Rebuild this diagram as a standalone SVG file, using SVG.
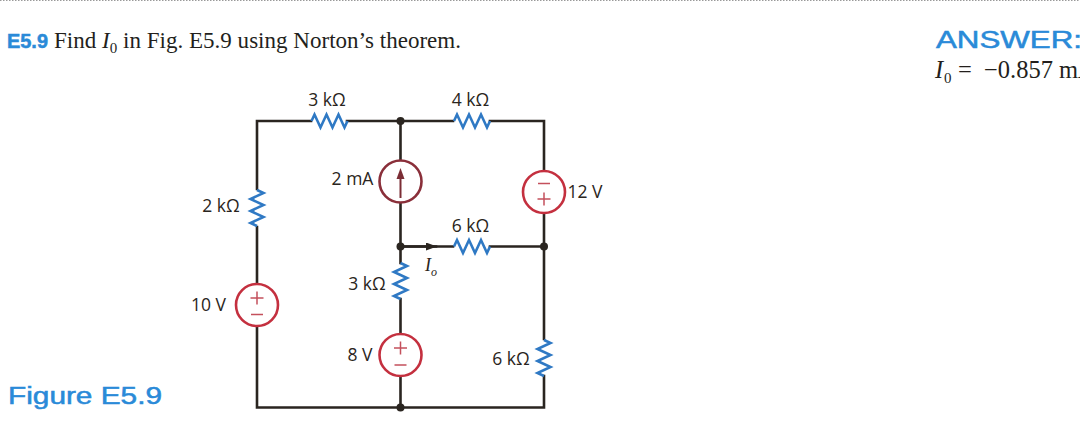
<svg xmlns="http://www.w3.org/2000/svg" width="1080" height="443" viewBox="0 0 1080 443">
<defs>
<style>
.w{fill:none;stroke:#2a2520;stroke-width:2.6;stroke-linecap:square}
.r{fill:none;stroke:#2f79c4;stroke-width:2.6;stroke-linejoin:miter}
.s{fill:#fff;stroke:#c4303f;stroke-width:2.6}
.p{fill:none;stroke:#c4505c;stroke-width:1.5}
.d{fill:#2a2520}
.l{font-family:"Open Sans","Liberation Sans",sans-serif;font-size:17.5px;fill:#2a2520}
.t{font-family:"Liberation Serif",serif;font-size:23px;fill:#231f1c}
.b{font-family:"Liberation Sans",sans-serif;fill:#2a8ad8;stroke:#2a8ad8;stroke-width:.5}
</style>
<marker id="a" markerWidth="12" markerHeight="8" refX="10" refY="4" orient="auto" markerUnits="userSpaceOnUse"><path d="M0 0L11 4L0 8Z" fill="#2a2520"/></marker>
<path id="zh" d="M0 0L3 -6.500L9 6.500L15 -6.500L21 6.500L27 -6.500L33 6.500L36 0"/>
</defs>
<rect width="1080" height="443" fill="#fff"/>
<line x1="0" y1="0.5" x2="1080" y2="0.5" stroke="#9a9a9a" stroke-width="1.2" stroke-dasharray="1.5 1.5"/>
<g id="heading">
<text class="b" x="7" y="48" font-size="20" font-weight="700" textLength="41" lengthAdjust="spacingAndGlyphs">E5.9</text>
<text class="t" x="54" y="48" textLength="407">Find <tspan font-style="italic">I</tspan><tspan font-size="15" dy="5">0</tspan><tspan dy="-5"> in Fig. E5.9 using Norton’s theorem.</tspan></text>
<text class="b" x="8" y="404" font-size="23" textLength="154" lengthAdjust="spacingAndGlyphs">Figure E5.9</text>
<text class="b" x="936" y="48" font-size="23.500" textLength="146" lengthAdjust="spacingAndGlyphs">ANSWER:</text>
<text class="t" y="78" style="font-size:24.500px"><tspan x="935" font-style="italic">I</tspan><tspan x="944" style="font-size:15px" dy="5">0</tspan><tspan x="958" dy="-5">=</tspan><tspan x="984">−0.857</tspan><tspan x="1059">mA</tspan></text>
</g>
<g id="connectors">
<path class="w" d="M311 121H257V189M257 227V284M257 326V407.5H544V376M544 339V213M544 171V121H490M453 121H347"/>
<path class="w" d="M400.5 121V160M400.5 202V263M400.5 299V334M400.5 376V407.5"/>
<path class="w" d="M400.5 246.500H453M490 246.500H544"/>
<path class="w" d="M402 246.500H436" marker-end="url(#a)"/>
</g>
<g id="R-3k-top"><use href="#zh" class="r" x="311.500" y="121"/><text class="l" x="327" y="106" text-anchor="middle">3 kΩ</text></g>
<g id="R-4k"><use href="#zh" class="r" x="454" y="121"/><text class="l" x="470.500" y="106" text-anchor="middle">4 kΩ</text></g>
<g id="R-6k-mid"><use href="#zh" class="r" x="454" y="246.500"/><text class="l" x="470.500" y="232" text-anchor="middle">6 kΩ</text></g>
<g id="R-2k"><use href="#zh" class="r" transform="translate(257 190) rotate(90)"/><text class="l" x="221" y="212" text-anchor="middle">2 kΩ</text></g>
<g id="R-3k-mid"><use href="#zh" class="r" transform="translate(400.500 263) rotate(90)"/><text class="l" x="367" y="290" text-anchor="middle">3 kΩ</text></g>
<g id="R-6k-right"><use href="#zh" class="r" transform="translate(544 340) rotate(90)"/><text class="l" x="511" y="365" text-anchor="middle">6 kΩ</text></g>
<g id="I-2mA"><circle cx="400.500" cy="181.500" r="21" fill="#fff" stroke="#8a2f3a" stroke-width="2.6"/><path d="M400.500 198V176" stroke="#7b2d35" stroke-width="2"/><path d="M400.500 168L404.500 179H396.500Z" fill="#7b2d35"/><text class="l" x="352.500" y="185" text-anchor="middle">2 mA</text></g>
<g id="V-12"><circle class="s" cx="544" cy="192" r="21"/><path class="p" d="M538 183.500H550M537.500 199H550.500M544 192.500V205.500"/><text class="l" x="585" y="198" text-anchor="middle">12 V</text></g>
<g id="V-10"><circle class="s" cx="257" cy="305" r="21"/><path class="p" d="M250.500 298H263.500M257 291.500V304.500M251 314.500H263"/><text class="l" x="208.500" y="311" text-anchor="middle">10 V</text></g>
<g id="V-8"><circle class="s" cx="400.500" cy="355" r="21"/><path class="p" d="M394 348H407M400.500 341.500V354.500M394.500 365H406.500"/><text class="l" x="360" y="361" text-anchor="middle">8 V</text></g>
<g id="Io"><text x="425" y="271" font-family="Liberation Serif,serif" font-style="italic" font-size="18" fill="#2a2520">I</text><text x="431" y="276" font-family="Liberation Serif,serif" font-style="italic" font-size="12" fill="#2a2520">o</text></g>
<g id="junctions">
<circle class="d" cx="400.500" cy="121" r="4"/><circle class="d" cx="400.500" cy="246.500" r="4"/><circle class="d" cx="544" cy="246.500" r="4"/><circle class="d" cx="400.500" cy="407.500" r="4"/>
</g>
</svg>
